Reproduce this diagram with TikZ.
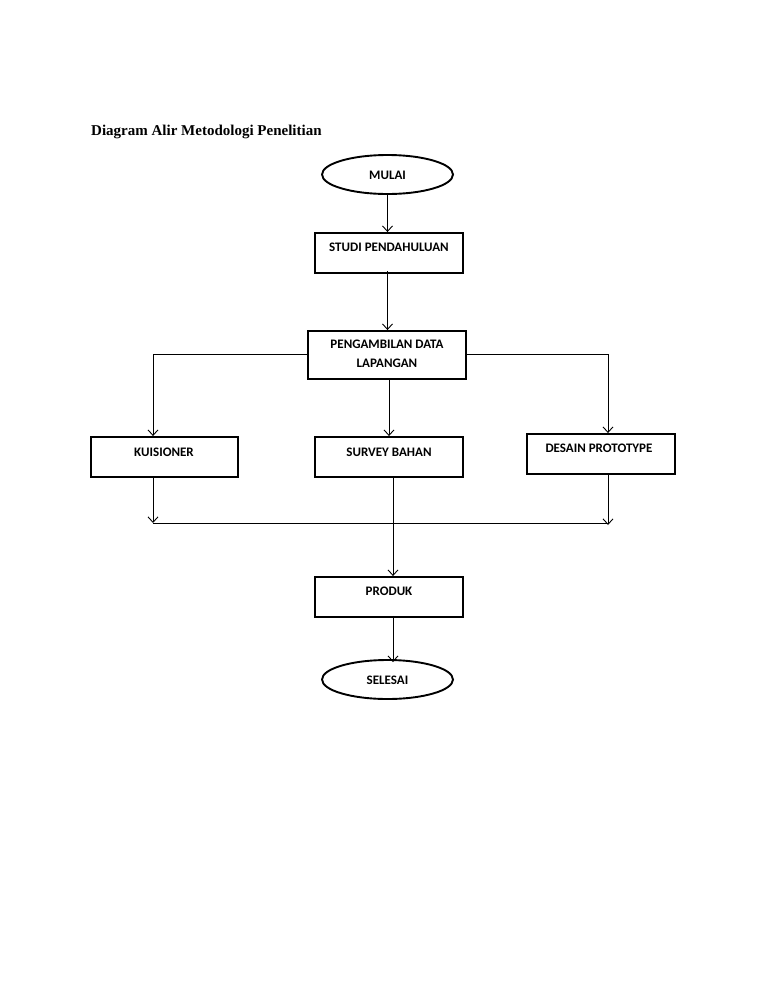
\documentclass[tikz,border=0pt]{standalone}
\usepackage{fontspec}
\setmainfont{Liberation Serif}
\newfontfamily\boxfont{Carlito}
\usetikzlibrary{shapes.geometric,arrows.meta}
\begin{document}
\begin{tikzpicture}[x=1pt,y=-1pt,
  box/.style={draw,line width=1.9pt,rectangle,inner sep=0pt,minimum width=148pt,minimum height=40pt},
  oval/.style={draw,line width=1.9pt,ellipse,inner sep=0pt,minimum width=131pt,minimum height=39pt},
  lbl/.style={inner sep=0pt,anchor=base,font=\boxfont\bfseries\fontsize{13}{15}\selectfont},
  conn/.style={line width=0.9pt},
  arr/.style={conn,-{Straight Barb[length=5.5pt,width=10pt,line width=0.9pt]}}]
\useasboundingbox (0,0) rectangle (768,994);
\fill[white] (0,0) rectangle (768,994);
\node[inner sep=0pt,anchor=base west,font=\bfseries\fontsize{15}{18}\selectfont] (title) at (91,135) {Diagram Alir Metodologi Penelitian};
% shapes
\node[oval] (mulai) at (387.5,174.5) {};
\node[box] (studi) at (389,253) {};
\node[box,minimum width=158pt,minimum height=48pt] (peng) at (387,355) {};
\node[box,minimum width=147pt] (kuis) at (164.5,457) {};
\node[box] (survey) at (389,457) {};
\node[box] (desain) at (601,454) {};
\node[box] (produk) at (389,597) {};
\node[oval] (selesai) at (387.5,679.5) {};
% labels
\node[lbl] (tmulai) at (387.5,179) {MULAI};
\node[lbl] (tstudi) at (389,251) {STUDI PENDAHULUAN};
\node[lbl] (tpeng1) at (387,348) {PENGAMBILAN DATA};
\node[lbl] (tpeng2) at (387,367) {LAPANGAN};
\node[lbl] (tkuis) at (164,456) {KUISIONER};
\node[lbl] (tsurvey) at (389,456) {SURVEY BAHAN};
\node[lbl] (tdesain) at (599,452) {DESAIN PROTOTYPE};
\node[lbl] (tproduk) at (389,595) {PRODUK};
\node[lbl] (tselesai) at (387.5,684) {SELESAI};
% connectors
\coordinate (jl) at (153,523);
\coordinate (jr) at (608,523);
\draw[arr] (mulai.south) -- (mulai.south |- studi.north);
\coordinate (s1) at ([yshift=3]studi.south -| mulai.south);
\draw[arr] (s1) -- (s1 |- peng.north);
\coordinate (p1) at ([xshift=2]peng.south);
\draw[arr] (p1) -- (p1 |- survey.north);
\draw[arr] ([yshift=1]peng.west) -| ([xshift=-11.5]kuis.north);
\draw[arr] ([yshift=1]peng.east) -| ([xshift=7]desain.north);
\draw[arr] ([xshift=-11.5]kuis.south) -- (jl);
\draw[arr] ([xshift=7]desain.south) -- ([yshift=-2]jr);
\draw[conn] (jl) -- (jr);
\coordinate (v1) at ([xshift=4]survey.south);
\draw[arr] (v1) -- (v1 |- produk.north);
\coordinate (v2) at ([xshift=4,yshift=2]produk.south);
\draw[arr] (v2) -- ([yshift=-3]v2 |- selesai.north);
\end{tikzpicture}
\end{document}
